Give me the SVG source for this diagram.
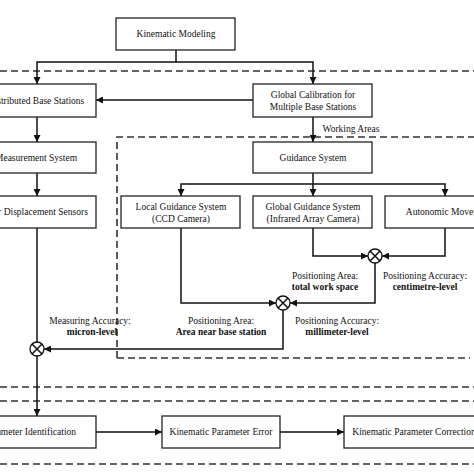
<svg xmlns="http://www.w3.org/2000/svg" width="474" height="474" viewBox="0 0 474 474">
<defs>
<style>
.box{fill:#fff;stroke:#222;stroke-width:1.3}
.t{font-family:"Liberation Serif","Times New Roman",serif;font-size:9.5px;fill:#111;text-anchor:middle}
.b{font-weight:bold}
.ln{fill:none;stroke:#111;stroke-width:1.5}
.dash{fill:none;stroke:#333;stroke-width:1.6;stroke-dasharray:7,4}
.sum{fill:#fff;stroke:#111;stroke-width:1.3}
</style>
<marker id="ah" viewBox="0 0 10 10" refX="10" refY="5" markerWidth="7" markerHeight="7" markerUnits="userSpaceOnUse" orient="auto">
<path d="M0,0 L10,5 L0,10 z" fill="#111"/>
</marker>
</defs>
<rect width="474" height="474" fill="#fff"/>
<g id="dashed-regions">
<line class="dash" x1="0" y1="71" x2="474" y2="71"/>
<path class="dash" d="M117,358 V137 H474"/>
<line class="dash" x1="117" y1="358" x2="470" y2="358"/>
<line class="dash" x1="0" y1="387" x2="474" y2="387"/>
<line class="dash" x1="0" y1="401" x2="474" y2="401"/>
<line class="dash" x1="0" y1="464" x2="474" y2="464"/>
</g>
<g id="connectors">
<path class="ln" d="M176,50 V62"/>
<path class="ln" d="M176,62 H37 V84" marker-end="url(#ah)"/>
<path class="ln" d="M176,62 H313 V84" marker-end="url(#ah)"/>
<path class="ln" d="M253,100 H96" marker-end="url(#ah)"/>
<path class="ln" d="M37,117 V142" marker-end="url(#ah)"/>
<path class="ln" d="M313,117 V142" marker-end="url(#ah)"/>
<path class="ln" d="M37,173 V196" marker-end="url(#ah)"/>
<path class="ln" d="M313,173 V184"/>
<path class="ln" d="M313,184 H181 V196" marker-end="url(#ah)"/>
<path class="ln" d="M313,184 V196" marker-end="url(#ah)"/>
<path class="ln" d="M313,184 H445 V196" marker-end="url(#ah)"/>
<path class="ln" d="M313,228 V256 H368" marker-end="url(#ah)"/>
<path class="ln" d="M445,228 V256 H382" marker-end="url(#ah)"/>
<path class="ln" d="M375,263 V303 H290" marker-end="url(#ah)"/>
<path class="ln" d="M181,228 V303 H276" marker-end="url(#ah)"/>
<path class="ln" d="M283,310 V349 H44" marker-end="url(#ah)"/>
<path class="ln" d="M37,228 V342"/>
<path class="ln" d="M37,356 V416" marker-end="url(#ah)"/>
<path class="ln" d="M96,432 H162" marker-end="url(#ah)"/>
<path class="ln" d="M280,432 H344" marker-end="url(#ah)"/>
</g>
<g id="kinematic-modeling"><rect class="box" x="116" y="18" width="119" height="32"/><text class="t" x="176" y="37">Kinematic Modeling</text></g>
<g id="distributed-base-stations"><rect class="box" x="-24" y="84" width="120" height="33"/><text class="t" x="36" y="104">Distributed Base Stations</text></g>
<g id="global-calibration"><rect class="box" x="253" y="84" width="119" height="33"/><text class="t" x="313" y="98">Global Calibration for</text><text class="t" x="313" y="110">Multiple Base Stations</text></g>
<g id="working-areas-label"><text class="t" x="351" y="132">Working Areas</text></g>
<g id="measurement-system"><rect class="box" x="-24" y="142" width="120" height="31"/><text class="t" x="36" y="161">Measurement System</text></g>
<g id="guidance-system"><rect class="box" x="253" y="142" width="119" height="31"/><text class="t" x="313" y="161">Guidance System</text></g>
<g id="laser-displacement-sensors"><rect class="box" x="-24" y="196" width="120" height="32"/><text class="t" x="34" y="215">Laser Displacement Sensors</text></g>
<g id="local-guidance-system"><rect class="box" x="121" y="196" width="119" height="32"/><text class="t" x="181" y="210">Local Guidance System</text><text class="t" x="181" y="222">(CCD Camera)</text></g>
<g id="global-guidance-system"><rect class="box" x="253" y="196" width="119" height="32"/><text class="t" x="313" y="210">Global Guidance System</text><text class="t" x="313" y="222">(Infrared Array Camera)</text></g>
<g id="autonomic-movement"><rect class="box" x="385" y="196" width="120" height="32"/><text class="t" x="449" y="215">Autonomic Movement</text></g>
<g id="sum1"><circle class="sum" cx="375" cy="256" r="7"/><path class="ln" d="M370,251 L380,261 M380,251 L370,261" stroke-width="1.1"/></g>
<g id="sum2"><circle class="sum" cx="283" cy="303" r="7"/><path class="ln" d="M278,298 L288,308 M288,298 L278,308" stroke-width="1.1"/></g>
<g id="sum3"><circle class="sum" cx="37" cy="349" r="7"/><path class="ln" d="M32,344 L42,354 M42,344 L32,354" stroke-width="1.1"/></g>
<g id="label-total-work-space"><text class="t" x="325" y="279">Positioning Area:</text><text class="t b" x="325" y="290">total work space</text></g>
<g id="label-centimetre"><text class="t" x="425" y="279">Positioning Accuracy:</text><text class="t b" x="425" y="290">centimetre-level</text></g>
<g id="label-area-near"><text class="t" x="221" y="324">Positioning Area:</text><text class="t b" x="221" y="335">Area near base station</text></g>
<g id="label-millimeter"><text class="t" x="337" y="324">Positioning Accuracy:</text><text class="t b" x="337" y="335">millimeter-level</text></g>
<g id="label-micron"><text class="t" x="90" y="324">Measuring Accuracy:</text><text class="t b" x="92" y="335">micron-level</text></g>
<g id="parameter-identification"><rect class="box" x="-24" y="416" width="120" height="32"/><text class="t" x="30" y="435">Parameter Identification</text></g>
<g id="kinematic-parameter-error"><rect class="box" x="162" y="416" width="118" height="32"/><text class="t" x="221" y="435">Kinematic Parameter Error</text></g>
<g id="kinematic-parameter-correction"><rect class="box" x="344" y="416" width="150" height="32"/><text class="t" x="414" y="435">Kinematic Parameter Correction</text></g>
</svg>
